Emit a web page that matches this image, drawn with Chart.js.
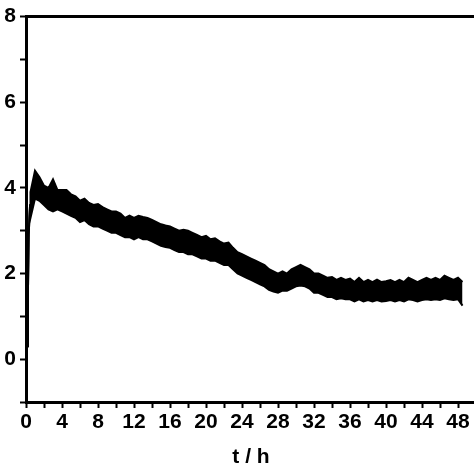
<!DOCTYPE html>
<html><head><meta charset="utf-8">
<script src="https://cdn.jsdelivr.net/npm/chart.js@4/dist/chart.umd.min.js"></script>
<style>html,body{margin:0;padding:0;overflow:hidden;background:#fff}#w{position:absolute;left:0;top:0;width:520px;height:474px}</style>
</head><body><div id="w"><canvas id="c" width="520" height="474"></canvas></div>
<script>
const startT = [0.15, 0.22, 0.3, 0.38, 0.45];
const startV = [0.3, 1.6, 2.9, 3.3, 3.6];
const hiV = [3.9,4.4,4.25,4.05,4.0,4.2,3.95,3.95,3.95,3.85,3.8,3.7,3.75,3.65,3.6,3.62,3.55,3.5,3.45,3.45,3.4,3.3,3.35,3.3,3.35,3.32,3.3,3.25,3.2,3.15,3.12,3.1,3.05,3.0,3.02,3.0,2.95,2.9,2.85,2.88,2.8,2.82,2.75,2.7,2.72,2.6,2.5,2.45,2.4,2.35,2.3,2.25,2.2,2.1,2.05,2.0,2.05,2.0,2.1,2.15,2.2,2.15,2.1,2.0,2.0,1.95,1.9,1.92,1.85,1.9,1.85,1.88,1.8,1.9,1.8,1.85,1.8,1.86,1.8,1.82,1.85,1.8,1.85,1.8,1.9,1.85,1.8,1.85,1.9,1.85,1.9,1.85,1.95,1.9,1.85,1.9,1.8];
const loV = [3.3,3.75,3.7,3.6,3.5,3.45,3.5,3.45,3.4,3.35,3.3,3.2,3.25,3.15,3.1,3.1,3.05,3.0,2.95,2.95,2.9,2.85,2.85,2.8,2.85,2.8,2.8,2.75,2.7,2.65,2.62,2.6,2.55,2.5,2.5,2.45,2.45,2.4,2.35,2.35,2.3,2.3,2.25,2.2,2.2,2.1,2.0,1.95,1.9,1.85,1.8,1.75,1.7,1.62,1.58,1.55,1.6,1.6,1.65,1.7,1.72,1.7,1.65,1.55,1.55,1.5,1.45,1.45,1.4,1.42,1.4,1.4,1.35,1.4,1.35,1.38,1.35,1.38,1.35,1.36,1.38,1.35,1.38,1.35,1.4,1.38,1.35,1.38,1.4,1.38,1.4,1.38,1.42,1.4,1.38,1.4,1.25];
const hiPts = startT.map((t,i)=>({x:t,y:startV[i]}));
const loPts = startT.map((t,i)=>({x:t,y:startV[i]}));
hiV.forEach((h,i)=>{hiPts.push({x:0.5+i*0.5,y:h}); loPts.push({x:0.5+i*0.5,y:loV[i]});});
const F = {family:'Liberation Sans, Arial, sans-serif', size:21, weight:'bold'};
new Chart(document.getElementById('c'),{
 type:'line',
 data:{datasets:[
  {data:hiPts,borderColor:'#000',borderWidth:2,pointRadius:0,tension:0,fill:false},
  {data:loPts,borderColor:'#000',borderWidth:2,pointRadius:0,tension:0,fill:'-1',backgroundColor:'#000'}]},
 options:{animation:false,responsive:false,
  layout:{padding:{top:11,right:44,left:0,bottom:0}},
  plugins:{legend:{display:false},tooltip:{enabled:false}},
  scales:{
   x:{type:'linear',min:0,max:50,
      afterFit(s){s.height=72;},
      grid:{drawOnChartArea:false,color:'#000',tickLength:6,tickWidth:2},
      border:{color:'#000',width:3},
      ticks:{stepSize:2,color:'#000',font:F,padding:2,maxRotation:0,autoSkip:false,callback:v=>(v%4===0&&v<=48)?v:''},
      title:{display:true,text:'t / h',color:'#000',font:F,padding:{top:6}}},
   x2:{type:'linear',position:'top',min:0,max:50,afterFit(s){s.height=0;},
      grid:{display:false},border:{color:'#000',width:3},ticks:{display:false}},
   y:{min:-1,max:8,
      afterFit(s){s.width=26;},
      grid:{drawOnChartArea:false,color:'#000',tickLength:6,tickWidth:2},
      border:{color:'#000',width:3},
      ticks:{stepSize:1,color:'#000',font:F,padding:4,callback:v=>(v%2===0)?v:''}}
  }}
});
</script></body></html>
